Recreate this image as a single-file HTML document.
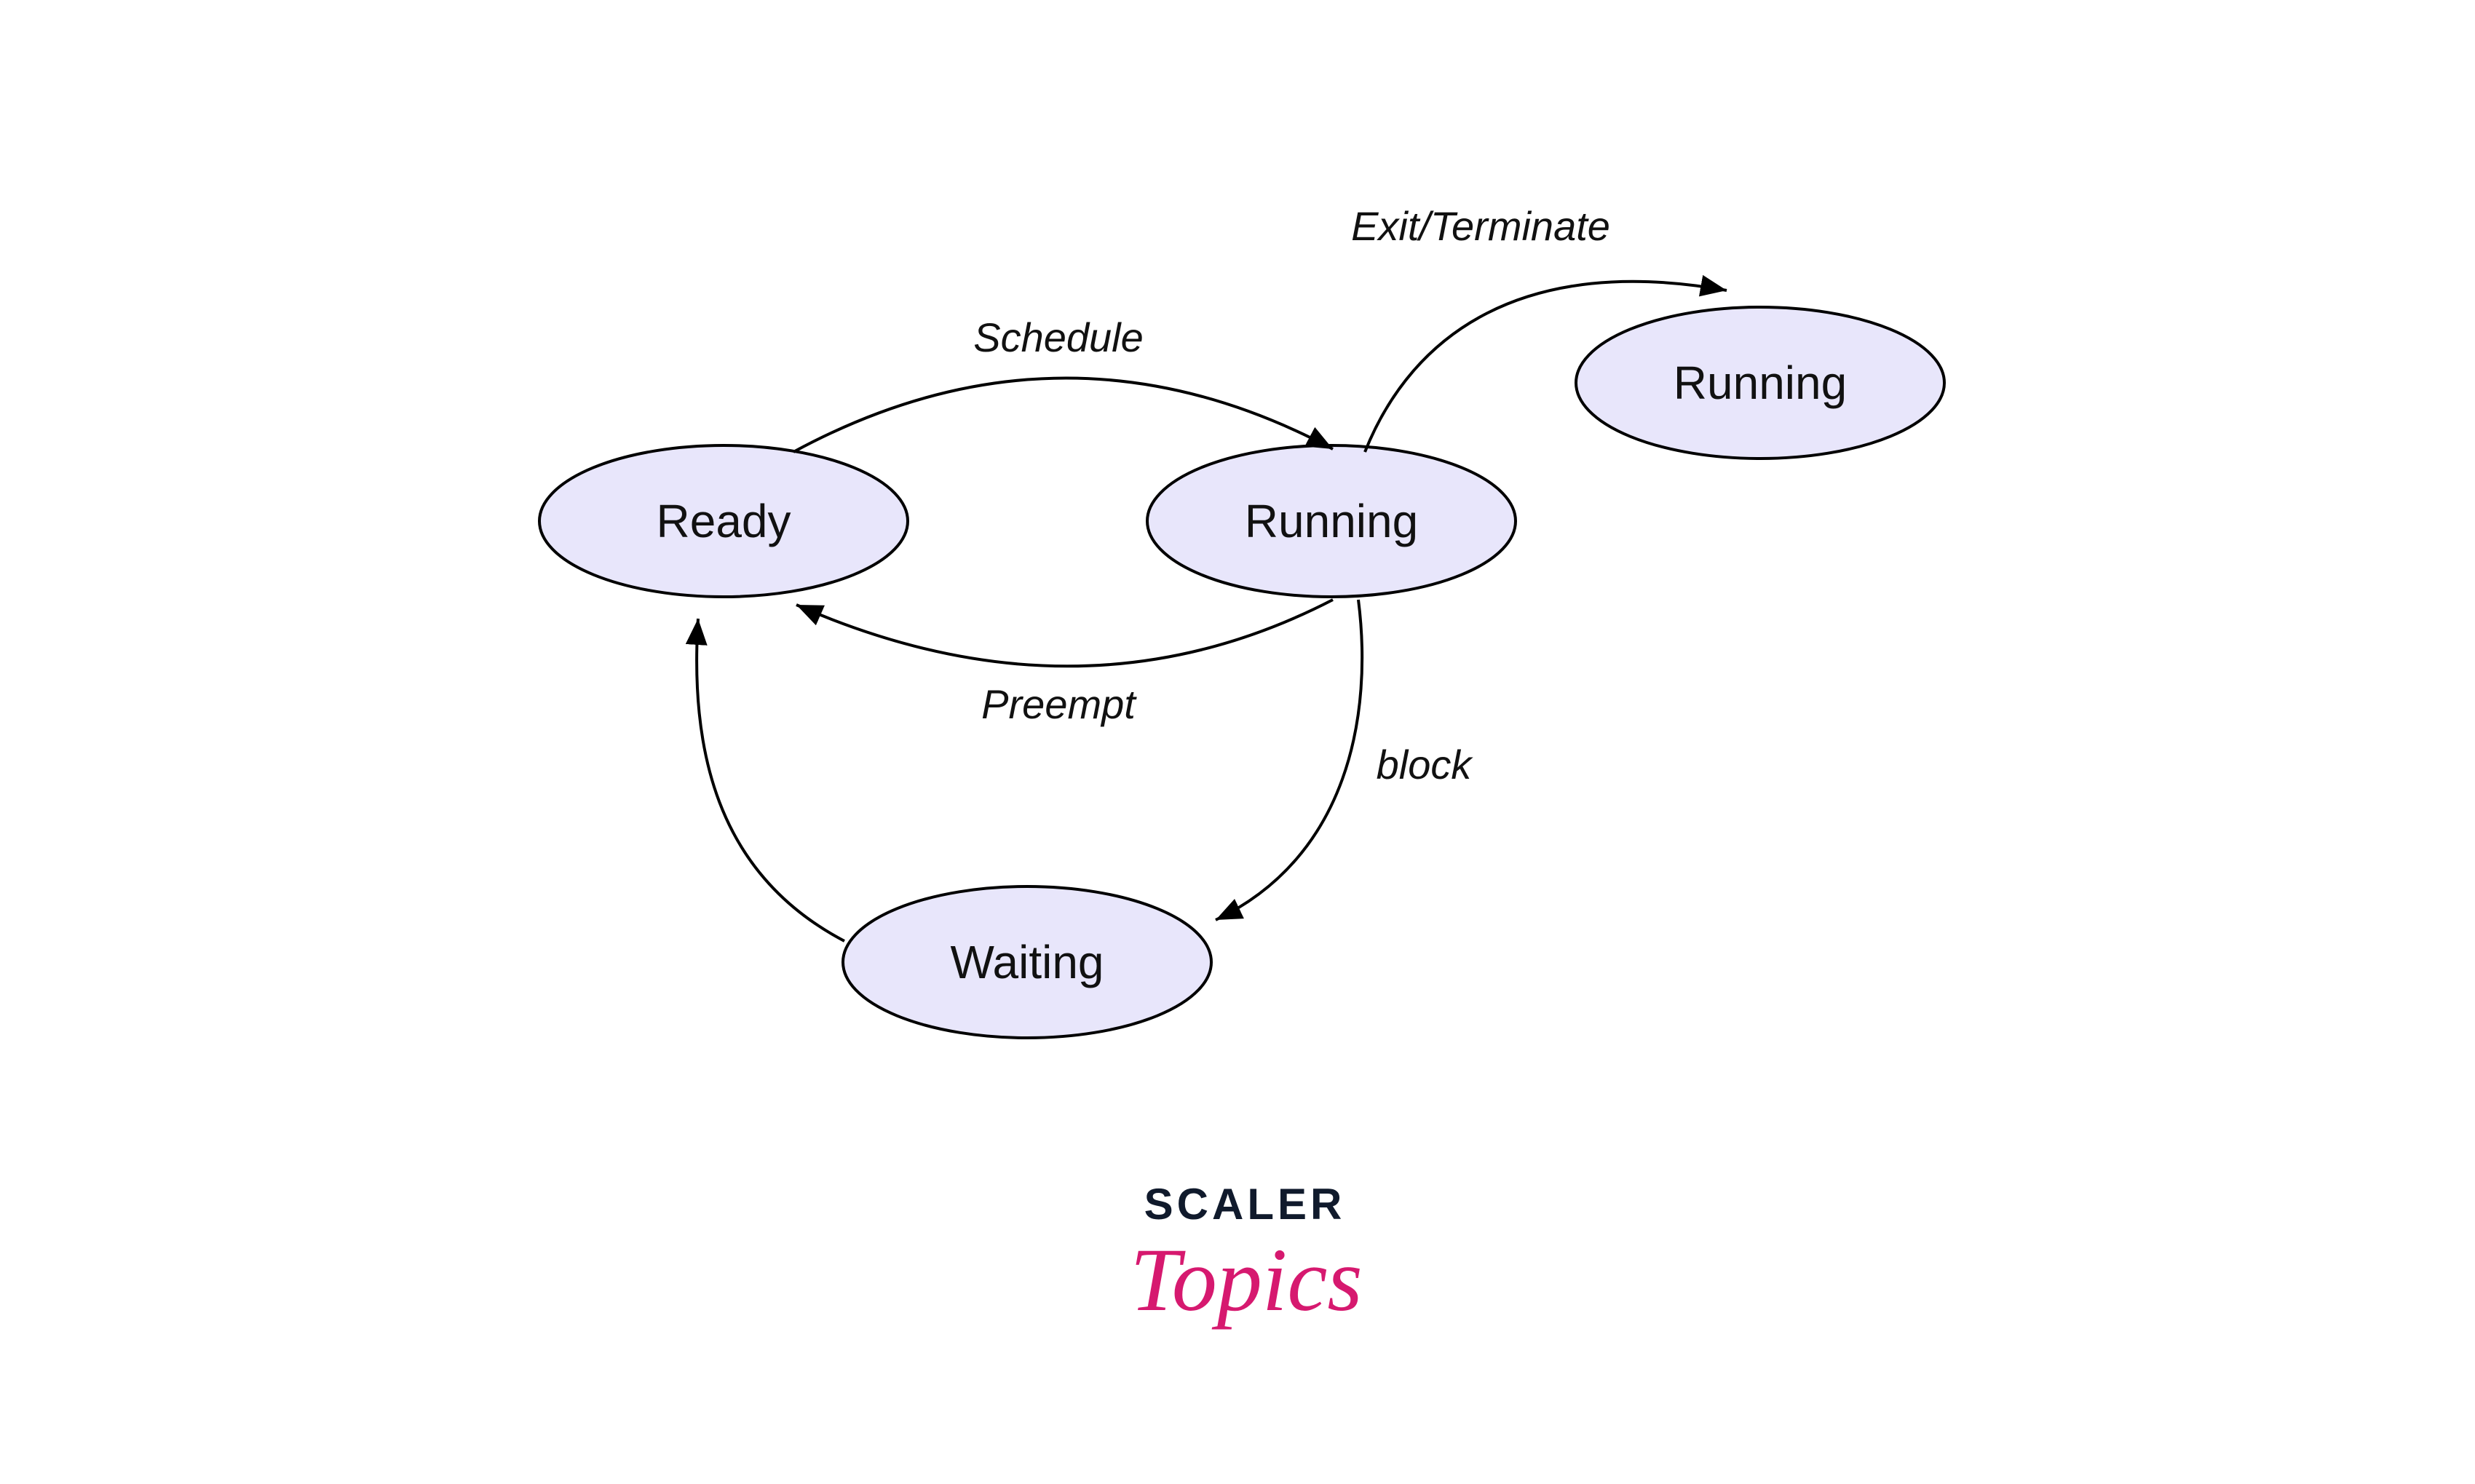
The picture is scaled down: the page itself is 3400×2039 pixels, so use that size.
<!DOCTYPE html>
<html><head><style>
html,body{margin:0;padding:0;background:#fff;}
svg{display:block;}
</style></head><body>
<svg width="3400" height="2039" viewBox="0 0 3400 2039" xmlns="http://www.w3.org/2000/svg">
<defs>
<marker id="a" viewBox="0 0 10 10" refX="10" refY="5" markerWidth="36" markerHeight="30" markerUnits="userSpaceOnUse" orient="auto" preserveAspectRatio="none">
<path d="M0,0 L10,5 L0,10 z" fill="#000"/>
</marker>
</defs>
<g fill="#e8e6fb" stroke="#000" stroke-width="4">
<ellipse cx="994" cy="716" rx="253" ry="104"/>
<ellipse cx="1829" cy="716" rx="253" ry="104"/>
<ellipse cx="2418" cy="526" rx="253" ry="104"/>
<ellipse cx="1411" cy="1322" rx="253" ry="104"/>
</g>
<g fill="none" stroke="#000" stroke-width="4">
<path d="M1090,621 Q1461,420 1831,617" marker-end="url(#a)"/>
<path d="M1875,621 C1940,458 2093,349 2372,399" marker-end="url(#a)"/>
<path d="M1831,824 Q1485,1003 1094,831" marker-end="url(#a)"/>
<path d="M1866,824 C1886,981 1853,1177 1670,1264" marker-end="url(#a)"/>
<path d="M1160,1293 C981,1199 948,1025 959,850" marker-end="url(#a)"/>
</g>
<g font-family="Liberation Sans, sans-serif" font-size="64" text-anchor="middle" fill="#111">
<text x="994" y="738">Ready</text>
<text x="1829" y="738">Running</text>
<text x="2418" y="548">Running</text>
<text x="1411" y="1344">Waiting</text>
</g>
<g font-family="Liberation Sans, sans-serif" font-size="56" font-style="italic" text-anchor="middle" fill="#111">
<text x="1454" y="483">Schedule</text>
<text x="2034" y="330">Exit/Terminate</text>
<text x="1454" y="987">Preempt</text>
<text x="1956" y="1070">block</text>
</g>
<text x="1710" y="1675" font-family="Liberation Sans, sans-serif" font-weight="bold" font-size="60" letter-spacing="5" text-anchor="middle" fill="#101a2c">SCALER</text>
<text x="1712" y="1800" font-family="Liberation Serif, serif" font-style="italic" font-size="124" text-anchor="middle" fill="#d6196f">Topics</text>
</svg>
</body></html>
